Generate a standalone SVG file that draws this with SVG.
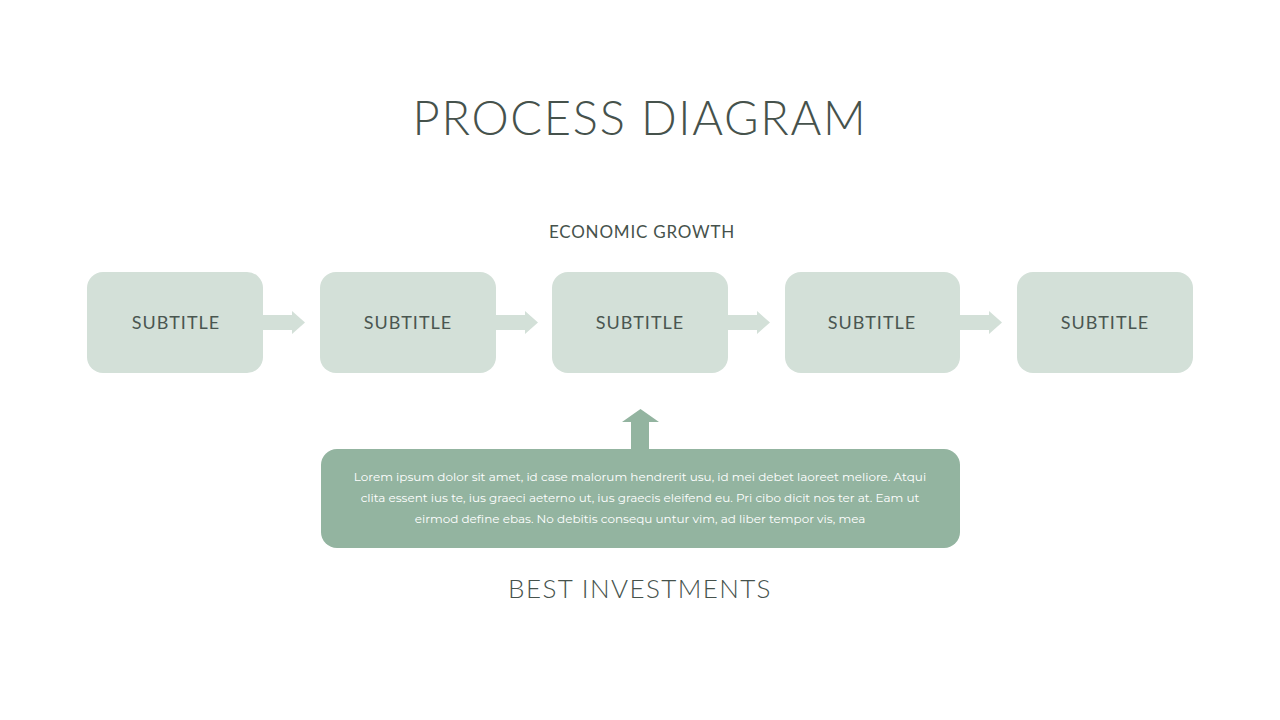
<svg xmlns="http://www.w3.org/2000/svg" width="1280" height="720" viewBox="0 0 1280 720">
<style>
.box{fill:#d3e0d8}
.arr{fill:#d3e0d8}
.lbl{font-family:Lato,"Liberation Sans",sans-serif;font-size:18px;font-weight:400;fill:#4a5650;text-anchor:middle;letter-spacing:1px}
.hd{font-family:Lato,"Liberation Sans",sans-serif;font-weight:300;fill:#46524c;text-anchor:middle}
.sub{font-family:Lato,"Liberation Sans",sans-serif;font-weight:400;fill:#46524c;text-anchor:middle}
.body{font-family:Montserrat,"Noto Sans","Liberation Sans",sans-serif;font-size:12px;fill:#ffffff;text-anchor:middle}
</style>
<rect width="1280" height="720" fill="#ffffff"/>
<text class="hd" x="640" y="135" font-size="47" letter-spacing="1.7">PROCESS DIAGRAM</text>
<text class="sub" x="642" y="238" font-size="17" letter-spacing="0.8">ECONOMIC GROWTH</text>
<g id="connectors">
<polygon class="arr" points="262,315 292,315 292,311 305,322.5 292,334 292,330 262,330"/>
<polygon class="arr" points="495,315 525,315 525,311 538,322.5 525,334 525,330 495,330"/>
<polygon class="arr" points="727,315 757,315 757,311 770,322.5 757,334 757,330 727,330"/>
<polygon class="arr" points="959,315 989,315 989,311 1002,322.5 989,334 989,330 959,330"/>
<polygon fill="#93b4a0" points="631,450 631,422 622,422 640.5,409 659,422 649,422 649,450"/>
</g>
<g id="node1"><rect class="box" x="87" y="272" width="176" height="101" rx="16"/><text class="lbl" x="176" y="329">SUBTITLE</text></g>
<g id="node2"><rect class="box" x="320" y="272" width="176" height="101" rx="16"/><text class="lbl" x="408" y="329">SUBTITLE</text></g>
<g id="node3"><rect class="box" x="552" y="272" width="176" height="101" rx="16"/><text class="lbl" x="640" y="329">SUBTITLE</text></g>
<g id="node4"><rect class="box" x="785" y="272" width="175" height="101" rx="16"/><text class="lbl" x="872" y="329">SUBTITLE</text></g>
<g id="node5"><rect class="box" x="1017" y="272" width="176" height="101" rx="16"/><text class="lbl" x="1105" y="329">SUBTITLE</text></g>
<g id="textbox">
<rect x="321" y="449" width="639" height="99" rx="16" fill="#93b4a0"/>
<text class="body" x="640" y="481">Lorem ipsum dolor sit amet, id case malorum hendrerit usu, id mei debet laoreet meliore. Atqui</text>
<text class="body" x="640" y="502">clita essent ius te, ius graeci aeterno ut, ius graecis eleifend eu. Pri cibo dicit nos ter at. Eam ut</text>
<text class="body" x="640" y="523">eirmod define ebas. No debitis consequ untur vim, ad liber tempor vis, mea</text>
</g>
<text class="hd" x="640" y="598" font-size="26" letter-spacing="1.4">BEST INVESTMENTS</text>
</svg>
